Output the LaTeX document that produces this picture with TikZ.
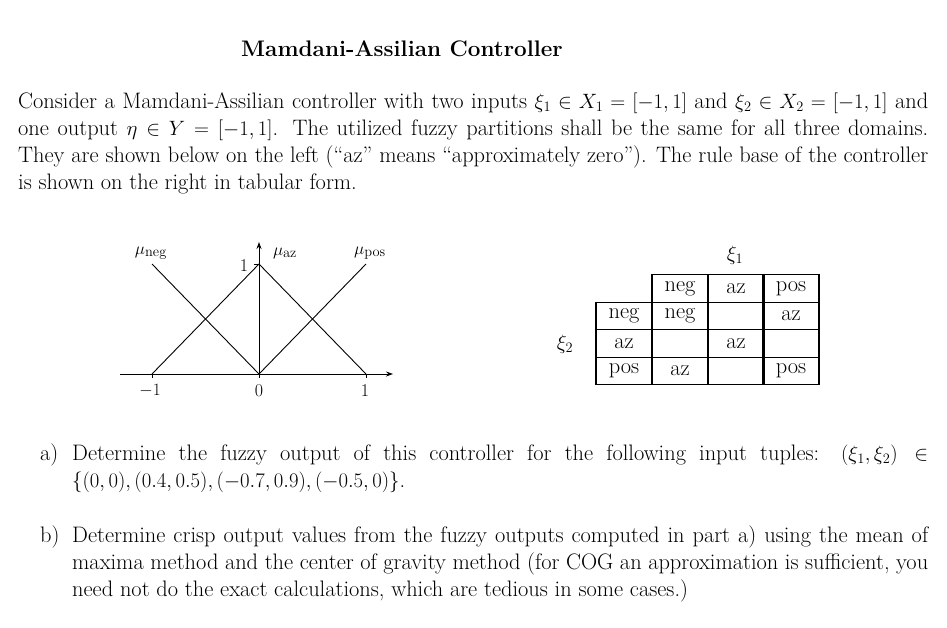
\documentclass[tikz,border=0pt]{standalone}
\usepackage{amsmath,amssymb}
\usetikzlibrary{arrows.meta}
\begin{document}
\begin{tikzpicture}[x=1pt,y=-1pt,
  body/.style={font=\fontsize{22.4}{27}\selectfont,inner sep=0pt,align=justify},
  cell/.style={draw,line width=1.1pt,minimum width=56pt,minimum height=27.5pt,inner sep=0pt,font=\fontsize{22.4}{27}\selectfont},
  ax/.style={line width=1pt,-{Stealth[length=7pt,width=5pt]}},
  fz/.style={line width=0.9pt},
  lab/.style={font=\fontsize{22.4}{27}\selectfont,inner sep=0pt},
  small/.style={font=\fontsize{18}{20}\selectfont,inner sep=0pt}]
\useasboundingbox (0,0) rectangle (947,627);
\node[anchor=base,inner sep=0pt,font=\fontsize{22.5}{27}\selectfont\bfseries] (title) at (402,56) {Mamdani-Assilian Controller};
\node[body,anchor=base west,text width=910pt] (para) at (18,108) {Consider a Mamdani-Assilian controller with two inputs $\xi_1\in X_1=[-1,1]$ and $\xi_2\in X_2=[-1,1]$ and one output $\eta\in Y=[-1,1]$. The utilized fuzzy partitions shall be the same for all three domains. They are shown below on the left (``az'' means ``approximately zero''). The rule base of the controller is shown on the right in tabular form.};
% graph
\coordinate (xs) at (120,374); \coordinate (xe) at (393,374);
\coordinate (ys) at (259,374); \coordinate (ye) at (259,242);
\draw[ax] (xs) -- (xe);
\draw[ax] (ys) -- (ye);
\coordinate (m1) at (152,374); \coordinate (o) at (259,374); \coordinate (p1) at (366,374);
\coordinate (m1t) at (152,264); \coordinate (ot) at (259,264); \coordinate (p1t) at (366,264);
\draw[fz] (m1t) -- (o) -- (p1t);
\draw[fz] (m1) -- (ot) -- (p1);
\draw[line width=0.9pt] (254,264) -- (ot);
\foreach \c in {m1,o,p1} \draw[line width=0.9pt] (\c) -- ++(0,4);
\node[small] (one) at (244,266) {1};
\node[small] (lm1) at (150,391) {$-1$};
\node[small] (l0) at (259,391) {0};
\node[small] (l1) at (365,391) {1};
\node[small,font=\fontsize{19}{20}\selectfont] (mneg) at (151,253) {$\mu_{\mathrm{neg}}$};
\node[small,font=\fontsize{19}{20}\selectfont] (maz) at (285,253) {$\mu_{\mathrm{az}}$};
\node[small,font=\fontsize{19}{20}\selectfont] (mpos) at (370,253) {$\mu_{\mathrm{pos}}$};
% table
\node[lab] (xi1) at (735,255) {$\xi_1$};
\node[lab] (xi2) at (565,344) {$\xi_2$};
\node[cell] (h1) at (680,288.5) {neg};
\node[cell] (h2) at (736,288.5) {az};
\node[cell] (h3) at (791,288.5) {pos};
\node[cell] (r1) at (624,316) {neg};
\node[cell] (c11) at (680,316) {neg};
\node[cell] (c12) at (736,316) {};
\node[cell] (c13) at (791,316) {az};
\node[cell] (r2) at (624,343.5) {az};
\node[cell] (c21) at (680,343.5) {};
\node[cell] (c22) at (736,343.5) {az};
\node[cell] (c23) at (791,343.5) {};
\node[cell] (r3) at (624,371) {pos};
\node[cell] (c31) at (680,371) {az};
\node[cell] (c32) at (736,371) {};
\node[cell] (c33) at (791,371) {pos};
% questions
\node[lab,anchor=base west] (qa) at (40,460) {a)};
\node[body,anchor=base west,text width=856pt] (ta) at (72,460) {Determine the fuzzy output of this controller for the following input tuples: $(\xi_1,\xi_2)\in$ $\{(0,0),(0.4,0.5),(-0.7,0.9),(-0.5,0)\}$.};
\node[lab,anchor=base west] (qb) at (40,542) {b)};
\node[body,anchor=base west,text width=856pt] (tb) at (72,542) {Determine crisp output values from the fuzzy outputs computed in part a) using the mean of maxima method and the center of gravity method (for COG an approximation is sufficient, you need not do the exact calculations, which are tedious in some cases.)};
\end{tikzpicture}
\end{document}
